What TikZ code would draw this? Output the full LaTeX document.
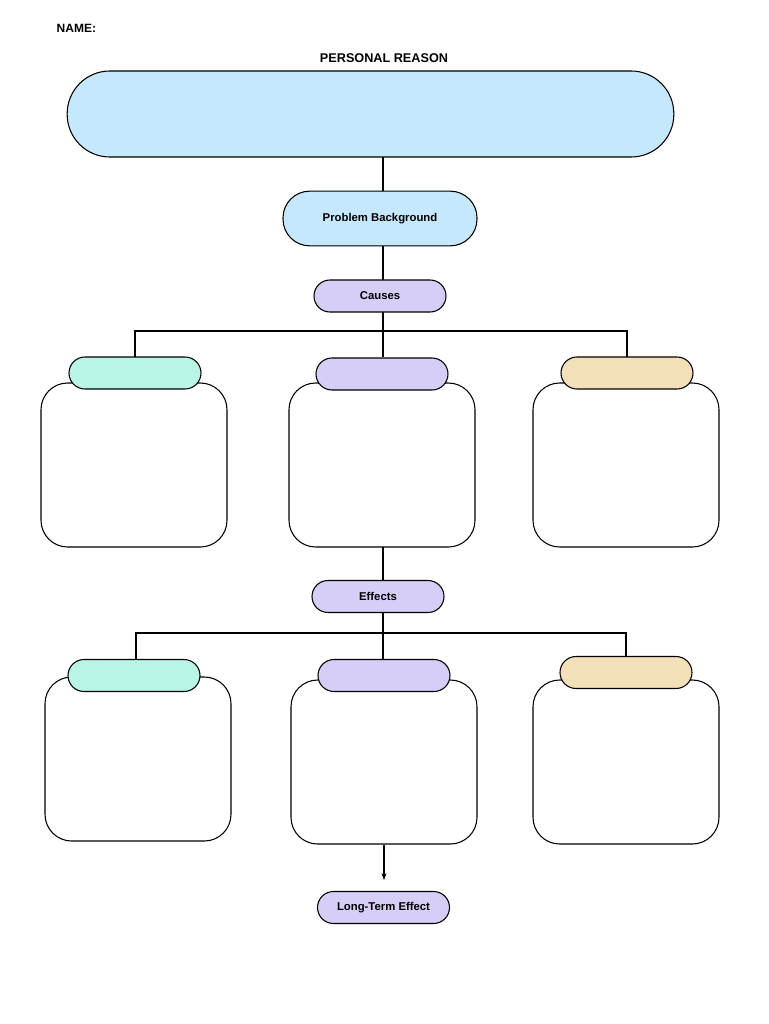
\documentclass[tikz,border=0pt]{standalone}
\usepackage{fontspec}
\setmainfont{Liberation Sans}
\usetikzlibrary{arrows.meta}
\definecolor{skyfill}{HTML}{C6E8FC}
\definecolor{lavfill}{HTML}{D6CEF6}
\definecolor{mintfill}{HTML}{B8F5E6}
\definecolor{tanfill}{HTML}{F3E0B8}
\tikzset{
  pill/.style={draw=black, thick, fill=#1, minimum width=99pt, minimum height=24pt, rounded corners=12pt, font=\bfseries\fontsize{8.5}{10}\selectfont},
  box/.style={draw=black, thick, fill=white, minimum width=139.5pt, minimum height=123pt, rounded corners=20pt},
  link/.style={draw=black, thick}
}
\begin{document}
\begin{tikzpicture}[x=0.75pt, y=-0.75pt]
    \useasboundingbox (0,0) rectangle (768,1024);
    \node[anchor=west, font=\bfseries\fontsize{9}{10}\selectfont] (name) at (52,28) {NAME:};
    \node[font=\bfseries\fontsize{9.5}{11}\selectfont] (title) at (384,58) {PERSONAL REASON};
    % top part
    \node[pill=skyfill, minimum width=455pt, minimum height=64.5pt, rounded corners=32pt] (reason) at (370.5,114) {};
    \node[pill=skyfill, minimum width=145.5pt, minimum height=41pt, rounded corners=20pt] (background) at (380,218.5) {Problem Background};
    \node[pill=lavfill] (causes) at (380,296) {Causes};
    \draw[link] (383,157) -- (383,191);
    \draw[link] (383,246) -- (383,280);
    % cause boxes
    \node[box] (cboxa) at (134,465) {};
    \node[box] (cboxb) at (382,465) {};
    \node[box] (cboxc) at (626,465) {};
    \draw[link] (383,312) -- (383,331);
    \draw[link] (135,357) |- (627,331) -- (627,357);
    \draw[link] (383,331) -- (383,357);
    \node[pill=mintfill] (chda) at (135,373) {};
    \node[pill=lavfill] (chdb) at (382,374) {};
    \node[pill=tanfill] (chdc) at (627,373) {};
    % effects
    \node[pill=lavfill] (effects) at (378,596.5) {Effects};
    \draw[link] (383,547) -- (383,580);
    \draw[link] (383,613) -- (383,633);
    \node[box] (eboxa) at (138,759) {};
    \node[box] (eboxb) at (384,762) {};
    \node[box] (eboxc) at (626,762) {};
    \draw[link] (136,659) |- (626,633) -- (626,656);
    \draw[link] (383,633) -- (383,659);
    \node[pill=mintfill] (ehda) at (134,675.5) {};
    \node[pill=lavfill] (ehdb) at (384,675.5) {};
    \node[pill=tanfill] (ehdc) at (626,672.5) {};
    % long-term
    \node[pill=lavfill] (longterm) at (383.5,907.5) {Long-Term Effect};
    \draw[link, -{Stealth[length=5pt]}] (eboxb.south) -- (384,880);
\end{tikzpicture}
\end{document}
